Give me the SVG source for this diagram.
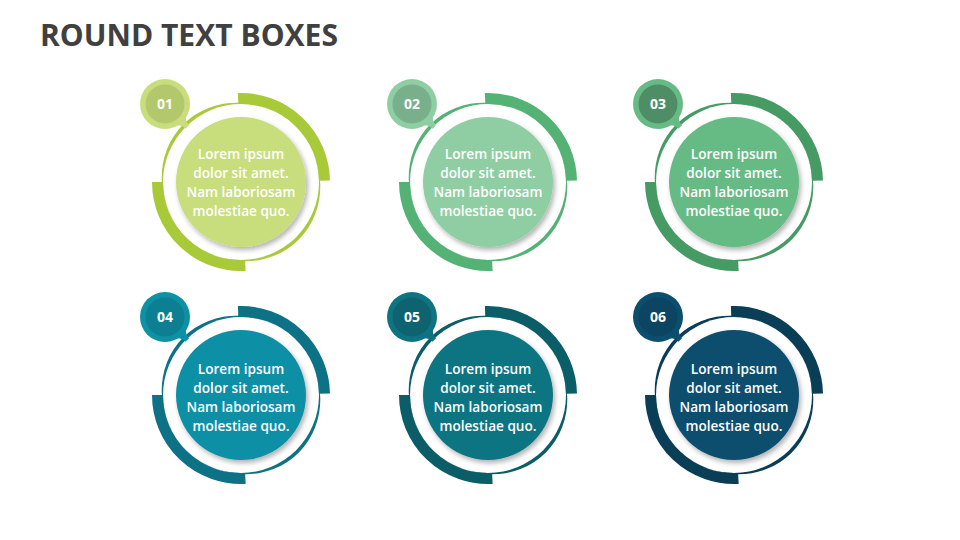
<svg xmlns="http://www.w3.org/2000/svg" xmlns:xlink="http://www.w3.org/1999/xlink" width="960" height="540" viewBox="0 0 960 540">
<style>
.title{font-family:"Open Sans","Liberation Sans",sans-serif;font-weight:700;font-size:31px;fill:#404040}
.t{font-family:"Open Sans","Liberation Sans",sans-serif;font-weight:600;font-size:13.6px;fill:#fff;text-anchor:middle}
.n{font-family:"Open Sans","Liberation Sans",sans-serif;font-weight:700;font-size:14px;fill:#fff;text-anchor:middle}
.arc{fill:none;stroke-width:11}
</style>
<defs>
<filter id="sh" x="-25%" y="-25%" width="150%" height="150%">
<feDropShadow dx="2" dy="3" stdDeviation="2.5" flood-color="#000" flood-opacity="0.3"/>
</filter>
<path id="arcs" class="arc" d="M -2.91,-83.45 A 83.5 83.5 0 0 1 83.49,-1.46 M 4.37,83.39 A 83.5 83.5 0 0 1 -83.5,0"/>
<ellipse id="cres" rx="81.5" ry="77" transform="rotate(45)"/>
<path id="stem" d="M 77,-2.5 C 84,-2.5 88,-8 90,-16.2 L 95,0 L 90,16.2 C 88,8 84,2.5 77,2.5 Z" transform="rotate(-134.3)"/>
</defs>
<rect width="960" height="540" fill="#fff"/>
<text class="title" x="40" y="46" textLength="298" lengthAdjust="spacingAndGlyphs">ROUND TEXT BOXES</text>

<g id="node1" transform="translate(241,182)">
<use xlink:href="#cres" fill="#A9CA38"/>
<circle r="78" fill="#fff"/>
<use xlink:href="#stem" fill="#C8DD7C"/>
<circle cx="-76" cy="-78" r="25" fill="#C8DD7C"/>
<circle cx="-76" cy="-78" r="19.5" fill="#B3C76D"/>
<text class="n" x="-76" y="-73">01</text>
<use xlink:href="#arcs" stroke="#A9CA38"/>
<circle r="65" fill="#C8DD7C" filter="url(#sh)"/>
<text class="t" y="-23">Lorem ipsum</text>
<text class="t" y="-4">dolor sit amet.</text>
<text class="t" y="15">Nam laboriosam</text>
<text class="t" y="34">molestiae quo.</text>
</g>

<g id="node2" transform="translate(488,182)">
<use xlink:href="#cres" fill="#54B274"/>
<circle r="78" fill="#fff"/>
<use xlink:href="#stem" fill="#8FCEA3"/>
<circle cx="-76" cy="-78" r="25" fill="#8FCEA3"/>
<circle cx="-76" cy="-78" r="19.5" fill="#79AF8B"/>
<text class="n" x="-76" y="-73">02</text>
<use xlink:href="#arcs" stroke="#54B274"/>
<circle r="65" fill="#8FCEA3" filter="url(#sh)"/>
<text class="t" y="-23">Lorem ipsum</text>
<text class="t" y="-4">dolor sit amet.</text>
<text class="t" y="15">Nam laboriosam</text>
<text class="t" y="34">molestiae quo.</text>
</g>

<g id="node3" transform="translate(734,182)">
<use xlink:href="#cres" fill="#459B63"/>
<circle r="78" fill="#fff"/>
<use xlink:href="#stem" fill="#66BB85"/>
<circle cx="-76" cy="-78" r="25" fill="#66BB85"/>
<circle cx="-76" cy="-78" r="19.5" fill="#4F8D66"/>
<text class="n" x="-76" y="-73">03</text>
<use xlink:href="#arcs" stroke="#459B63"/>
<circle r="65" fill="#66BB85" filter="url(#sh)"/>
<text class="t" y="-23">Lorem ipsum</text>
<text class="t" y="-4">dolor sit amet.</text>
<text class="t" y="15">Nam laboriosam</text>
<text class="t" y="34">molestiae quo.</text>
</g>

<g id="node4" transform="translate(241,395)">
<use xlink:href="#cres" fill="#0E7286"/>
<circle r="78" fill="#fff"/>
<use xlink:href="#stem" fill="#0E90A5"/>
<circle cx="-76" cy="-78" r="25" fill="#0E90A5"/>
<circle cx="-76" cy="-78" r="19.5" fill="#0D7F92"/>
<text class="n" x="-76" y="-73">04</text>
<use xlink:href="#arcs" stroke="#0E7286"/>
<circle r="65" fill="#0E90A5" filter="url(#sh)"/>
<text class="t" y="-21">Lorem ipsum</text>
<text class="t" y="-2">dolor sit amet.</text>
<text class="t" y="17">Nam laboriosam</text>
<text class="t" y="36">molestiae quo.</text>
</g>

<g id="node5" transform="translate(488,395)">
<use xlink:href="#cres" fill="#0B5D68"/>
<circle r="78" fill="#fff"/>
<use xlink:href="#stem" fill="#0F7482"/>
<circle cx="-76" cy="-78" r="25" fill="#0F7482"/>
<circle cx="-76" cy="-78" r="19.5" fill="#0D6470"/>
<text class="n" x="-76" y="-73">05</text>
<use xlink:href="#arcs" stroke="#0B5D68"/>
<circle r="65" fill="#0F7482" filter="url(#sh)"/>
<text class="t" y="-21">Lorem ipsum</text>
<text class="t" y="-2">dolor sit amet.</text>
<text class="t" y="17">Nam laboriosam</text>
<text class="t" y="36">molestiae quo.</text>
</g>

<g id="node6" transform="translate(734,395)">
<use xlink:href="#cres" fill="#0A3D56"/>
<circle r="78" fill="#fff"/>
<use xlink:href="#stem" fill="#0C4E6D"/>
<circle cx="-76" cy="-78" r="25" fill="#0C4E6D"/>
<circle cx="-76" cy="-78" r="19.5" fill="#0B4562"/>
<text class="n" x="-76" y="-73">06</text>
<use xlink:href="#arcs" stroke="#0A3D56"/>
<circle r="65" fill="#0C4E6D" filter="url(#sh)"/>
<text class="t" y="-21">Lorem ipsum</text>
<text class="t" y="-2">dolor sit amet.</text>
<text class="t" y="17">Nam laboriosam</text>
<text class="t" y="36">molestiae quo.</text>
</g>

<g id="connectors"></g>
</svg>
